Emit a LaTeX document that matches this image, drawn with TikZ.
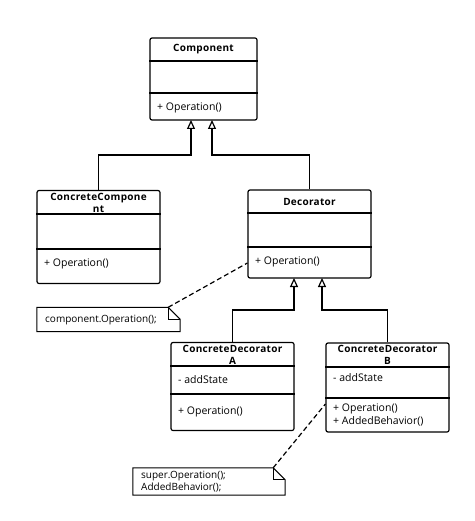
\documentclass[tikz,border=0pt]{standalone}
\usepackage{fontspec}
\setmainfont{Open Sans}
\newfontfamily\titlefont[LetterSpace=3]{Open Sans}
\usetikzlibrary{arrows.meta}

\begin{document}
\begin{tikzpicture}[x=1pt, y=-1pt,
    classbox/.style={draw, rounded corners=2pt, line width=1.2pt, inner sep=0},
    title/.style={font=\titlefont\bfseries\fontsize{10}{12}\selectfont, align=center, inner sep=0},
    member/.style={font=\fontsize{10.5}{13.5}\selectfont, anchor=west, align=left, inner sep=0},
    note/.style={font=\fontsize{10}{12.5}\selectfont, align=left, inner sep=0},
    inherit/.style={line width=1.2pt, -{Triangle[open, length=9pt, width=8pt]}},
    notelink/.style={line width=1.2pt, dash pattern=on 5pt off 3pt}]
        \useasboundingbox (0,0) rectangle (474,521);

        % classes
        \node (comp) [classbox, minimum width=107pt, minimum height=82pt] at (203.5, 79) {};
        \node (cc)   [classbox, minimum width=123pt, minimum height=93pt] at (98.5, 237) {};
        \node (dec)  [classbox, minimum width=123pt, minimum height=88pt] at (309.5, 234) {};
        \node (cda)  [classbox, minimum width=123pt, minimum height=88pt] at (232.5, 386.5) {};
        \node (cdb)  [classbox, minimum width=123pt, minimum height=89pt] at (387.5, 387.5) {};

        \foreach \c/\y in {comp/61, comp/93, cc/214, cc/249, dec/213, dec/247,
                           cda/366, cda/394, cdb/367, cdb/398}
            \draw[line width=1.2pt] (\c.west |- 0,\y) -- (\c.east |- 0,\y);

        \node (comp-t) [title] at (203.5, 49) {Component};
        \node (cc-t)   [title] at (98.5, 202.5) {ConcreteCompone\\nt};
        \node (dec-t)  [title] at (309.5, 202) {Decorator};
        \node (cda-t)  [title] at (232.5, 354.5) {ConcreteDecorator\\A};
        \node (cdb-t)  [title] at (387.5, 354.5) {ConcreteDecorator\\B};

        \node (comp-op) [member] at (157, 108) {+ Operation()};
        \node (cc-op)   [member] at (44, 264) {+ Operation()};
        \node (dec-op)  [member] at (255, 262) {+ Operation()};
        \node (cda-at)  [member] at (178, 380) {- addState};
        \node (cda-op)  [member] at (178, 412) {+ Operation()};
        \node (cdb-at)  [member] at (333, 378) {- addState};
        \node (cdb-op)  [member] at (333, 415) {+ Operation()\\+ AddedBehavior()};

        % notes
        \node (note1) [minimum width=143pt, minimum height=24pt, inner sep=0] at (108.5, 319.5) {};
        \node (note2) [minimum width=152pt, minimum height=27pt, inner sep=0] at (209, 481.5) {};
        \node (note1-t) [note, anchor=west] at (45, 320.5) {component.Operation();};
        \node (note2-t) [note, anchor=west] at (141, 481.5) {super.Operation();\\AddedBehavior();};

        \foreach \n in {note1, note2} {
            \draw[line width=1pt] (\n.north west) -- ([xshift=-12pt]\n.north east)
                -- ([yshift=-12pt]\n.north east) -- (\n.south east) -- (\n.south west) -- cycle;
            \draw[line width=1pt] ([xshift=-12pt]\n.north east) |- ([yshift=-12pt]\n.north east);
        }

        % generalisation
        \coordinate (comp-l) at (191, 120);
        \coordinate (comp-r) at (212, 120);
        \coordinate (dec-l) at (294, 278);
        \coordinate (dec-r) at (322, 278);

        \draw[inherit] (cc.north) |- (comp-l |- 0,155) -- (comp-l);
        \draw[inherit] (dec.north) |- (comp-r |- 0,155) -- (comp-r);
        \draw[inherit] (cda.north) |- (dec-l |- 0,310) -- (dec-l);
        \draw[inherit] (cdb.north) |- (dec-r |- 0,310) -- (dec-r);

        % note links
        \draw[notelink] ([xshift=-12pt]note1.north east) -- (dec.west |- 0,263);
        \draw[notelink] ([xshift=-12pt]note2.north east) -- (cdb.west |- 0,404);
\end{tikzpicture}
\end{document}
